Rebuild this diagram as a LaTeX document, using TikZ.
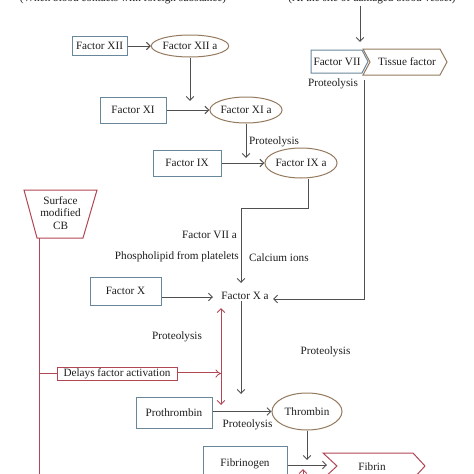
\documentclass[tikz,border=0pt]{standalone}
\usepackage{fontspec}
\setmainfont{Liberation Serif}
\usetikzlibrary{arrows.meta,shapes.geometric}
\definecolor{boxc}{RGB}{105,135,155}
\definecolor{ovalc}{RGB}{150,122,95}
\definecolor{redc}{RGB}{178,70,84}
\definecolor{linec}{RGB}{80,80,80}
\definecolor{txtc}{RGB}{30,30,30}
\begin{document}
\begin{tikzpicture}[x=1pt,y=1pt,
 every node/.style={font=\fontsize{11.2}{12.5}\selectfont, text=txtc},
 fbox/.style={draw=boxc, line width=1pt, inner sep=0pt},
 oval/.style={ellipse, draw=ovalc, line width=1pt, inner sep=0pt},
 conn/.style={draw=linec, line width=1pt},
 arr/.style={conn, -{Straight Barb[length=3.8pt,width=7.5pt]}},
 redline/.style={draw=redc, line width=1pt},
 redarr/.style={redline, -{Straight Barb[length=3.8pt,width=7.5pt]}},
 lbl/.style={inner sep=0pt}]
\fill[white] (0,0) rectangle (474,-474);
\useasboundingbox (0,0) rectangle (474,-474);

% top captions (cut off at the top edge, as in the reference)
\node[lbl, anchor=base] (ltop) at (123,-1.5) {(When blood contacts with foreign substance)};
\node[lbl, anchor=base] (rtop) at (372,-1.5) {(At the site of damaged blood vessel)};

% intrinsic pathway
\node[fbox, minimum width=55, minimum height=19] (f12) at (99.5,-46) {Factor XII};
\node[oval, minimum width=66, minimum height=22] (f12a) at (190,-46) {Factor XII a};
\node[fbox, minimum width=66, minimum height=26] (f11) at (133,-110) {Factor XI};
\node[oval, minimum width=70, minimum height=26] (f11a) at (246,-110) {Factor XI a};
\node[fbox, minimum width=68, minimum height=26] (f9) at (187,-163) {Factor IX};
\node[oval, minimum width=72, minimum height=30] (f9a) at (301,-163) {Factor IX a};

\coordinate (c1) at (190,-101);
\coordinate (c2) at (246,-158);
\coordinate (k1) at (241,-208);
\coordinate (c3) at (241,-283);

\draw[arr] (f12) -- (f12a);
\draw[arr] (f12a.south) -- (c1);
\draw[arr] (f11) -- (f11a);
\draw[arr] (f11a.south) -- (c2);
\node[lbl, anchor=west] (p1) at (249,-142) {Proteolysis};
\draw[arr] (f9) -- (f9a);
\draw[arr] ([xshift=7pt]f9a.south) |- (k1) -- (c3);

% extrinsic pathway
\draw[ovalc, line width=1pt, fill=white] (363,-49) -- (440,-49) -- (447,-62) -- (440,-75) -- (363,-75) -- (370,-62) -- cycle;
\draw[boxc, line width=1pt, fill=white] (311,-50) -- (362,-50) -- (368,-61.5) -- (362,-73) -- (311,-73) -- cycle;
\node[lbl] (f7) at (337,-61.5) {Factor VII};
\node[lbl] (tf) at (407,-62) {Tissue factor};
\coordinate (a1) at (360,-6);
\coordinate (a2) at (360,-42);
\draw[arr] (a1) -- (a2);
\node[lbl] (p2) at (333,-84) {Proteolysis};
\coordinate (r1) at (364,-80);
\coordinate (r2) at (273,-299);

% common pathway
\node[lbl, anchor=east] (f7a) at (237,-235) {Factor VII a};
\node[lbl, anchor=east] (phos) at (239,-257) {Phospholipid from platelets};
\node[lbl, anchor=west] (ca) at (249,-258) {Calcium ions};
\node[fbox, minimum width=71, minimum height=28] (fX) at (125.5,-291) {Factor X};
\node[lbl] (fXa) at (245,-295.5) {Factor X a};
\coordinate (x1) at (213,-297);
\draw[arr] (fX.east |- x1) -- (x1);
\draw[arr] (r1) |- (r2);

\coordinate (d1) at (241,-301);
\coordinate (d2) at (241,-394);
\draw[arr] (d1) -- (d2);
\node[lbl] (p3) at (177,-337) {Proteolysis};
\node[lbl] (p4) at (325.5,-352) {Proteolysis};

\node[fbox, minimum width=76, minimum height=31] (pro) at (174,-413) {Prothrombin};
\node[oval, minimum width=70, minimum height=37] (thr) at (307,-411.5) {Thrombin};
\draw[arr] (pro.east |- thr.west) -- (thr);
\node[lbl] (p5) at (247.5,-425) {Proteolysis};
\coordinate (t1) at (307,-460);
\draw[arr] (thr.south) -- (t1);

\node[fbox, minimum width=84, minimum height=36] (fbg) at (245,-464) {Fibrinogen};
\draw[redc, line width=1pt, fill=white] (323,-453) -- (413,-453) -- (425,-466) -- (413,-479) -- (323,-479) -- (337,-466) -- cycle;
\node[lbl] (fib) at (372,-467) {Fibrin};
\coordinate (g1) at (327,-465);
\draw[arr] (fbg.east |- g1) -- (g1);

% surface modified CB (red)
\draw[redline] (24,-190) -- (97,-190) -- (83,-238) -- (37,-238) -- cycle;
\node[lbl, align=center] (cb) at (60.5,-213) {Surface\\modified\\CB};
\coordinate (s1) at (39,-238);
\coordinate (s2) at (39,-482);
\draw[redline] (s1) -- (s2);
\node[draw=redc, line width=1pt, inner sep=0pt, minimum width=120, minimum height=13] (dly) at (117,-373.5) {Delays factor activation};
\coordinate (s3) at (39,-373.5);
\draw[redline] (s3) -- (dly.west);
\coordinate (v0) at (221,-373.5);
\draw[draw=redc, double=white, double distance=2pt, line width=0.8pt, -{Implies}] (dly.east) -- (v0);
\coordinate (v1) at (221,-308);
\coordinate (v2) at (221,-405);
\draw[redline, {Straight Barb[length=3.8pt,width=7.5pt]}-{Straight Barb[length=3.8pt,width=7.5pt]}] (v1) -- (v2);
\coordinate (b1) at (303,-484);
\coordinate (b2) at (303,-469);
\draw[redarr] (b1) -- (b2);
\end{tikzpicture}
\end{document}
